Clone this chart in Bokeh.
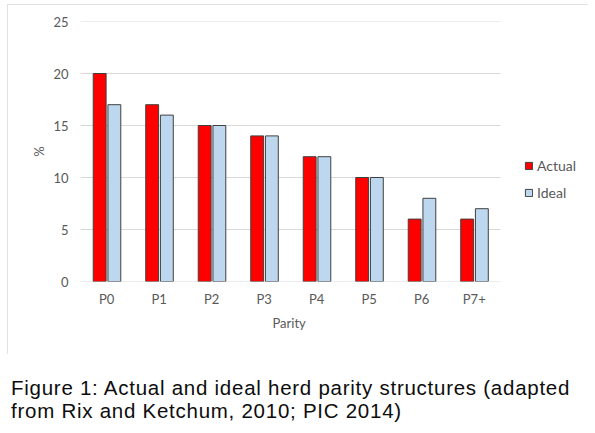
from bokeh.plotting import figure
from bokeh.layouts import column
from bokeh.models import ColumnDataSource, Range1d, Legend, LegendItem, Div, FixedTicker, Title
from bokeh.embed import file_html
from bokeh.resources import INLINE

categories = ["P0", "P1", "P2", "P3", "P4", "P5", "P6", "P7+"]
actual = [20, 17, 15, 14, 12, 10, 6, 6]
ideal = [17, 16, 15, 14, 12, 10, 8, 7]
y_ticks = [0, 5, 10, 15, 20, 25]
series_names = ["Actual", "Ideal"]
x_title = "Parity"
y_title = "%"
caption_lines = [
    "Figure 1: Actual and ideal herd parity structures (adapted",
    "from Rix and Ketchum, 2010; PIC 2014)",
]

FONT = "Lato"
TXT = "#595959"

idx = list(range(len(categories)))
x_lo, x_hi = -0.5, len(categories) - 0.5
# frame: 506 px wide, categories occupy 420 px (52.5 px each); extra room holds the legend
x_end = x_lo + 506 / 52.5

src = ColumnDataSource(dict(
    xa=[i - 0.135 for i in idx], xi=[i + 0.145 for i in idx],
    actual=actual, ideal=ideal))
grid_src = ColumnDataSource(dict(x0=[x_lo] * len(y_ticks), x1=[x_hi] * len(y_ticks),
                                 y=y_ticks))

p = figure(width=581, height=350, x_range=Range1d(x_lo, x_end), y_range=Range1d(0, 25),
           output_backend="svg", toolbar_location=None,
           min_border_left=73, min_border_right=2, min_border_top=17, min_border_bottom=73)
p.margin = (4, 0, 0, 7)
p.styles = {"outline": "1px solid #d9d9d9", "outline-offset": "-1px"}
p.outline_line_color = None
p.grid.grid_line_color = None

p.segment(x0="x0", x1="x1", y0="y", y1="y", source=grid_src, line_color="#d9d9d9", line_width=1)

r1 = p.vbar(x="xa", top="actual", width=0.245, source=src,
            fill_color="#ff0000", line_color="#404040", line_width=1)
r2 = p.vbar(x="xi", top="ideal", width=0.245, source=src,
            fill_color="#bdd7ee", line_color="#404040", line_width=1)

p.yaxis.ticker = FixedTicker(ticks=y_ticks)
p.xaxis.ticker = FixedTicker(ticks=idx)
p.xaxis.major_label_overrides = {i: c for i, c in zip(idx, categories)}

for ax in (p.xaxis[0], p.yaxis[0]):
    ax.axis_line_color = None
    ax.major_tick_line_color = None
    ax.minor_tick_line_color = None
    ax.major_tick_out = 0
    ax.major_label_text_font = FONT
    ax.major_label_text_font_size = "13px"
    ax.major_label_text_color = TXT
    ax.axis_label_text_font = FONT
    ax.axis_label_text_font_size = "13px"
    ax.axis_label_text_color = TXT
    ax.axis_label_text_font_style = "normal"

p.yaxis.axis_label = y_title
p.xaxis.major_label_standoff = 9
p.yaxis.major_label_standoff = 12
p.yaxis.axis_label_standoff = 3

# x-axis title centred under the category block (not under the wider frame)
xt = Title(text=x_title, align="left", offset=192, standoff=6,
           text_font=FONT, text_font_size="13px", text_color=TXT, text_font_style="normal")
p.add_layout(xt, "below")

legend = Legend(items=[LegendItem(label=series_names[0], renderers=[r1]),
                       LegendItem(label=series_names[1], renderers=[r2])],
                location=(444, 80), orientation="vertical")
legend.glyph_width = 9
legend.glyph_height = 9
legend.label_height = 18
legend.label_standoff = 4
legend.spacing = 9
legend.padding = 0
legend.margin = 0
legend.border_line_color = None
legend.background_fill_alpha = 0
legend.label_text_font = FONT
legend.label_text_font_size = "14px"
legend.label_text_color = TXT
p.add_layout(legend, "center")

cap_html = ('<div style="font-family: \'Liberation Sans\'; font-size: 20.5px; line-height: 23px; '
            'letter-spacing: 0.74px; color: #0d0d0d; padding-top: 17px; padding-left: 6px; '
            'margin: 0; white-space: nowrap;">'
            + "<br>".join(caption_lines) + "</div>")
cap = Div(text=cap_html, width=588, height=71)

layout = column(p, cap, spacing=0)
open("out.html", "w").write(file_html(layout, INLINE))
